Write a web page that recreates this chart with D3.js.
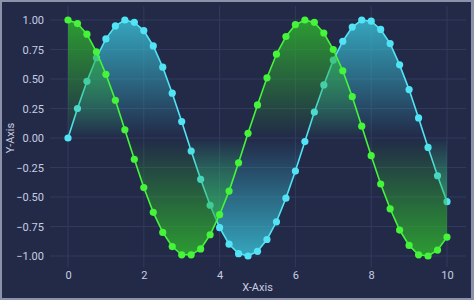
<!DOCTYPE html>
<html>
<head>
<meta charset="utf-8">
<script src="https://cdn.jsdelivr.net/npm/d3@7"></script>
<style>
  html, body { margin: 0; padding: 0; background: #8c92aa; }
  svg { display: block; }
</style>
</head>
<body>
<svg id="chart" width="474" height="300"></svg>
<script>

// x positions of the samples
var xValues = [0, 0.25, 0.5, 0.75, 1, 1.25, 1.5, 1.75, 2, 2.25, 2.5, 2.75, 3, 3.25, 3.5, 3.75,
    4, 4.25, 4.5, 4.75, 5, 5.25, 5.5, 5.75, 6, 6.25, 6.5, 6.75, 7, 7.25, 7.5, 7.75,
    8, 8.25, 8.5, 8.75, 9, 9.25, 9.5, 9.75, 10];

// cyan series
var sineValues = [0, 0.25, 0.48, 0.68, 0.84, 0.95, 1.0, 0.98, 0.91, 0.78, 0.6, 0.38, 0.14, -0.11,
    -0.35, -0.57, -0.76, -0.9, -0.98, -1.0, -0.96, -0.86, -0.71, -0.51, -0.28, -0.03, 0.22,
    0.45, 0.66, 0.82, 0.94, 1.0, 0.99, 0.92, 0.8, 0.62, 0.41, 0.17, -0.08, -0.32, -0.54];

// green series
var cosValues = [1.0, 0.97, 0.88, 0.73, 0.54, 0.32, 0.07, -0.18, -0.42, -0.63, -0.8, -0.92, -0.99,
    -0.99, -0.94, -0.82, -0.65, -0.45, -0.21, 0.04, 0.28, 0.51, 0.71, 0.86, 0.96, 1.0, 0.98,
    0.89, 0.75, 0.57, 0.35, 0.1, -0.15, -0.39, -0.6, -0.78, -0.91, -0.99, -1.0, -0.95, -0.84];

var xTicks = [0, 2, 4, 6, 8, 10];
var yTicks = [-1, -0.75, -0.5, -0.25, 0, 0.25, 0.5, 0.75, 1];

var svg = d3.select('#chart');

// chart panel
svg.append('rect')
    .attr('x', 2).attr('y', 2)
    .attr('width', 469).attr('height', 296)
    .attr('fill', '#222a48');

var x = d3.scaleLinear().domain([0, 10]).range([68, 447]);
var y = d3.scaleLinear().domain([-1, 1]).range([256, 20]);

var plotLeft = 50, plotRight = 466, plotTop = 6, plotBottom = 267;

// gridlines
var grid = svg.append('g').attr('class', 'grid');
grid.selectAll('line.h').data(yTicks).enter().append('line')
    .attr('x1', plotLeft).attr('x2', plotRight)
    .attr('y1', d => y(d)).attr('y2', d => y(d))
    .attr('stroke', '#313a5c').attr('stroke-width', 1);
grid.selectAll('line.v').data(xTicks).enter().append('line')
    .attr('x1', d => x(d)).attr('x2', d => x(d))
    .attr('y1', plotTop).attr('y2', plotBottom)
    .attr('stroke', '#313a5c').attr('stroke-width', 1);

// gradients: colour at +/-1, transparent at 0
var defs = svg.append('defs');
function makeGradient(id, color) {
    var g = defs.append('linearGradient')
        .attr('id', id)
        .attr('gradientUnits', 'userSpaceOnUse')
        .attr('x1', 0).attr('x2', 0)
        .attr('y1', y(1)).attr('y2', y(-1));
    g.append('stop').attr('offset', 0).attr('stop-color', color).attr('stop-opacity', 0.85);
    g.append('stop').attr('offset', 0.5).attr('stop-color', color).attr('stop-opacity', 0);
    g.append('stop').attr('offset', 1).attr('stop-color', color).attr('stop-opacity', 0.85);
}
makeGradient('sineFill', '#38bcd2');
makeGradient('cosFill', '#2eb02e');

function drawSeries(values, lineColor, fillId) {
    var data = xValues.map((d, i) => ({x: d, y: values[i]}));

    var area = d3.area()
        .x(d => x(d.x))
        .y0(y(0))
        .y1(d => y(d.y));
    var line = d3.line()
        .x(d => x(d.x))
        .y(d => y(d.y));

    svg.append('path')
        .datum(data)
        .attr('d', area)
        .attr('fill', 'url(#' + fillId + ')');

    svg.append('path')
        .datum(data)
        .attr('d', line)
        .attr('fill', 'none')
        .attr('stroke', lineColor)
        .attr('stroke-width', 1.6);

    svg.append('g').selectAll('circle')
        .data(data).enter().append('circle')
        .attr('cx', d => x(d.x))
        .attr('cy', d => y(d.y))
        .attr('r', 3.6)
        .attr('fill', lineColor);
}

drawSeries(sineValues, '#52e4f4', 'sineFill');
drawSeries(cosValues, '#46f43a', 'cosFill');

// axes
var xAxis = svg.append('g')
    .attr('transform', 'translate(0,' + plotBottom + ')')
    .call(d3.axisBottom(x).tickValues(xTicks).tickSize(0).tickPadding(4).tickFormat(d3.format('d')));
var yAxis = svg.append('g')
    .attr('transform', 'translate(' + plotLeft + ',0)')
    .call(d3.axisLeft(y).tickValues(yTicks).tickSize(0).tickPadding(6).tickFormat(d3.format('.2f')));

[xAxis, yAxis].forEach(function (a) {
    a.select('.domain').remove();
    a.selectAll('text')
        .attr('fill', '#c9cde0')
        .style('font-family', 'Roboto, "Noto Sans", sans-serif')
        .style('font-size', '11px');
});

svg.append('text')
    .attr('x', (x(0) + x(10)) / 2).attr('y', 291)
    .attr('text-anchor', 'middle')
    .attr('fill', '#c9cde0')
    .style('font-family', 'Roboto, "Noto Sans", sans-serif')
    .style('font-size', '11px')
    .text('X-Axis');

svg.append('text')
    .attr('transform', 'translate(14,' + y(0) + ') rotate(-90)')
    .attr('text-anchor', 'middle')
    .attr('fill', '#c9cde0')
    .style('font-family', 'Roboto, "Noto Sans", sans-serif')
    .style('font-size', '11px')
    .text('Y-Axis');

</script>
</body>
</html>
